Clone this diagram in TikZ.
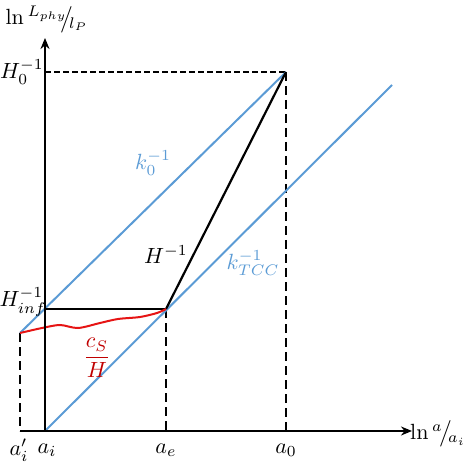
\documentclass[tikz,border=0pt]{standalone}
\usepackage{amsmath}
\usetikzlibrary{arrows.meta}
\definecolor{lblue}{RGB}{91,155,213}
\definecolor{cred}{RGB}{230,20,20}
\definecolor{tred}{RGB}{192,0,0}
\newcommand{\lbtxt}[1]{\scalebox{2.2}{#1}}
\begin{document}
\begin{tikzpicture}[x=1pt,y=-1pt,
  axis/.style={line width=2.6pt,-{Stealth[length=11pt,width=9pt]}},
  solidline/.style={line width=2.2pt},
  bluel/.style={lblue,line width=2pt},
  dashl/.style={line width=1.4pt,dash pattern=on 9pt off 5pt},
  dashs/.style={line width=1.4pt,dash pattern=on 6pt off 3pt},
  lbl/.style={inner sep=1pt}]
\useasboundingbox (0,0) rectangle (474,465);
% key points
\coordinate (O) at (45,431);
\coordinate (Ap) at (20,431);
\coordinate (Ae) at (166,431);
\coordinate (A0) at (286,431);
\coordinate (Xend) at (412,431);
\coordinate (Yend) at (45,38);
\coordinate (P0) at (286,72);
\coordinate (H0) at (45,72);
\coordinate (E) at (166,309);
\coordinate (Hi) at (45,309);
\coordinate (S) at (20,333);
\coordinate (T) at (392,85);
% dashed guides
\draw[dashs] (H0) -- (P0);
\draw[dashl] (P0) -- (A0);
\draw[dashl] (E) -- (Ae);
\draw[dashl] (S) -- (Ap);
% blue lines
\draw[bluel] (S) -- (P0);
\draw[bluel] (O) -- (T);
% black lines
\draw[solidline] (Hi) -- (E);
\draw[solidline] (E) -- (P0);
% red curve
\draw[cred,line width=2pt] plot[smooth,tension=0.5] coordinates {(20,333) (42,328) (60,325) (78,328) (100,323) (118,319) (140,317) (157,313) (166,309)};
% axes
\draw[axis] (Ap) -- (Xend);
\draw[axis] (O) -- (Yend);
% labels
\node[lbl,anchor=north] (ly) at (47,5) {\lbtxt{$\ln {}^{L_{phy}}\!\!\big/\!_{l_P}$}};
\node[lbl] (lx) at (438,434) {\lbtxt{$\ln {}^{a}\!\big/\!_{a_i}$}};
\node[lbl] (lH0) at (22,72) {\lbtxt{$H_0^{-1}$}};
\node[lbl] (lHi) at (23,302) {\lbtxt{$H_{inf}^{-1}$}};
\node[lbl,lblue] (lk0) at (153,163) {\lbtxt{$k_0^{-1}$}};
\node[lbl,anchor=east] (lH) at (189,255) {\lbtxt{$H^{-1}$}};
\node[lbl,lblue] (lkt) at (253,263) {\lbtxt{$k_{TCC}^{-1}$}};
\node[lbl,tred] (lcs) at (97,358) {\lbtxt{$\dfrac{c_S}{H}$}};
\node[lbl] (lap) at (19,450) {\lbtxt{$a'_i$}};
\node[lbl] (lai) at (47,450) {\lbtxt{$a_i$}};
\node[lbl] (lae) at (166,450) {\lbtxt{$a_e$}};
\node[lbl] (la0) at (286,450) {\lbtxt{$a_0$}};
\end{tikzpicture}
\end{document}
